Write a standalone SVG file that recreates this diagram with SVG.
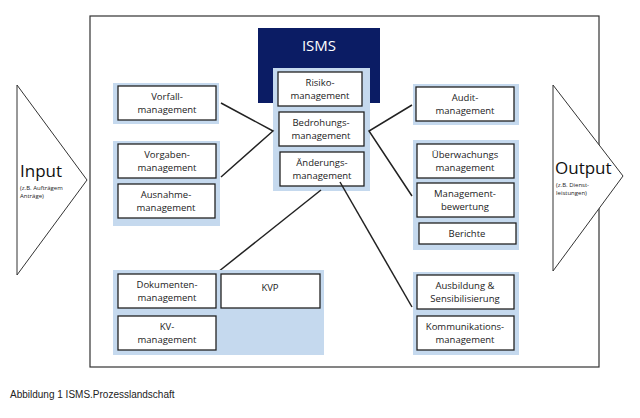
<svg xmlns="http://www.w3.org/2000/svg" width="640" height="418" viewBox="0 0 640 418">
<style>
.g{fill:#c5d9ee}
.b{fill:#fff;stroke:#222;stroke-width:1.3}
.t{font-family:"Open Sans","DejaVu Sans",sans-serif;font-size:9.5px;fill:#222;text-anchor:middle}
.c{stroke:#222;stroke-width:1.5;fill:none}
</style>
<rect width="640" height="418" fill="#fff"/>
<g id="frame"><rect x="90" y="16" width="509" height="351" fill="#fff" stroke="#333" stroke-width="1.2"/></g>
<g id="input"><polygon points="17,85 87,180 17,275" fill="#fff" stroke="#333"/>
<text x="20" y="177" font-family="Open Sans,sans-serif" font-size="17" fill="#111">Input</text>
<text x="20" y="190" font-family="Open Sans,sans-serif" font-size="6" fill="#222">(z.B. Aufträgem</text>
<text x="20" y="198" font-family="Open Sans,sans-serif" font-size="6" fill="#222">Anträge)</text></g>
<g id="output"><polygon points="553,85 623,176 553,271" fill="#fff" stroke="#333"/>
<text x="555" y="174" font-family="Open Sans,sans-serif" font-size="17" fill="#111">Output</text>
<text x="556" y="187" font-family="Open Sans,sans-serif" font-size="6" fill="#222">(z.B. Dienst-</text>
<text x="556" y="195" font-family="Open Sans,sans-serif" font-size="6" fill="#222">leistungen)</text></g>
<g id="isms"><rect x="258" y="28" width="122" height="75" fill="#0b1c64"/>
<text x="319" y="51" text-anchor="middle" font-family="Open Sans,sans-serif" font-size="15" fill="#fff">ISMS</text>
<rect class="g" x="273" y="68" width="97" height="123"/>
<rect class="b" x="278" y="72" width="84" height="34"/><text class="t" x="320" y="86">Risiko-</text><text class="t" x="320" y="99">management</text>
<rect class="b" x="279" y="112" width="85" height="34"/><text class="t" x="321" y="126">Bedrohungs-</text><text class="t" x="321" y="139">management</text>
<rect class="b" x="280" y="152" width="84" height="34"/><text class="t" x="322" y="166">Änderungs-</text><text class="t" x="322" y="179">management</text></g>
<g id="connectors">
<path class="c" d="M221,103 L273,131 L221,177"/>
<path class="c" d="M412,105 L369,131 L412,196"/>
<path class="c" d="M340,182 L412,307"/>
<path class="c" d="M321,190 L218,272"/>
</g>
<g id="vorfall"><rect class="g" x="113" y="83" width="106" height="41"/>
<rect class="b" x="118" y="86" width="98" height="34"/><text class="t" x="167" y="100">Vorfall-</text><text class="t" x="167" y="113">management</text></g>
<g id="vorgaben"><rect class="g" x="113" y="141" width="107" height="85"/>
<rect class="b" x="118" y="144" width="98" height="34"/><text class="t" x="167" y="158">Vorgaben-</text><text class="t" x="167" y="171">management</text>
<rect class="b" x="118" y="184" width="97" height="34"/><text class="t" x="166" y="198">Ausnahme-</text><text class="t" x="166" y="211">management</text></g>
<g id="audit"><rect class="g" x="413" y="84" width="106" height="41"/>
<rect class="b" x="416" y="87" width="98" height="34"/><text class="t" x="465" y="101">Audit-</text><text class="t" x="465" y="114">management</text></g>
<g id="ueberwachung"><rect class="g" x="413" y="140" width="106" height="110"/>
<rect class="b" x="417" y="144" width="97" height="34"/><text class="t" x="465" y="158">Überwachungs</text><text class="t" x="465" y="171">management</text>
<rect class="b" x="417" y="183" width="97" height="34"/><text class="t" x="465" y="197">Management-</text><text class="t" x="465" y="210">bewertung</text>
<rect class="b" x="419" y="223" width="97" height="21"/><text class="t" x="467" y="237">Berichte</text></g>
<g id="ausbildung"><rect class="g" x="413" y="272" width="106" height="83"/>
<rect class="b" x="417" y="275" width="97" height="34"/><text class="t" x="465" y="289">Ausbildung &amp;</text><text class="t" x="465" y="302">Sensibilisierung</text>
<rect class="b" x="417" y="316" width="97" height="34"/><text class="t" x="465" y="330">Kommunikations-</text><text class="t" x="465" y="343">management</text></g>
<g id="dokumente"><rect class="g" x="113" y="270" width="211" height="85"/>
<rect class="b" x="118" y="274" width="98" height="34"/><text class="t" x="167" y="288">Dokumenten-</text><text class="t" x="167" y="301">management</text>
<rect class="b" x="221" y="274" width="99" height="34"/><text class="t" x="270" y="291">KVP</text>
<rect class="b" x="118" y="316" width="98" height="34"/><text class="t" x="167" y="330">KV-</text><text class="t" x="167" y="343">management</text></g>
<text x="10" y="398" font-family="Liberation Sans,Arial,sans-serif" font-size="10" fill="#222">Abbildung 1 ISMS.Prozesslandschaft</text>
</svg>
